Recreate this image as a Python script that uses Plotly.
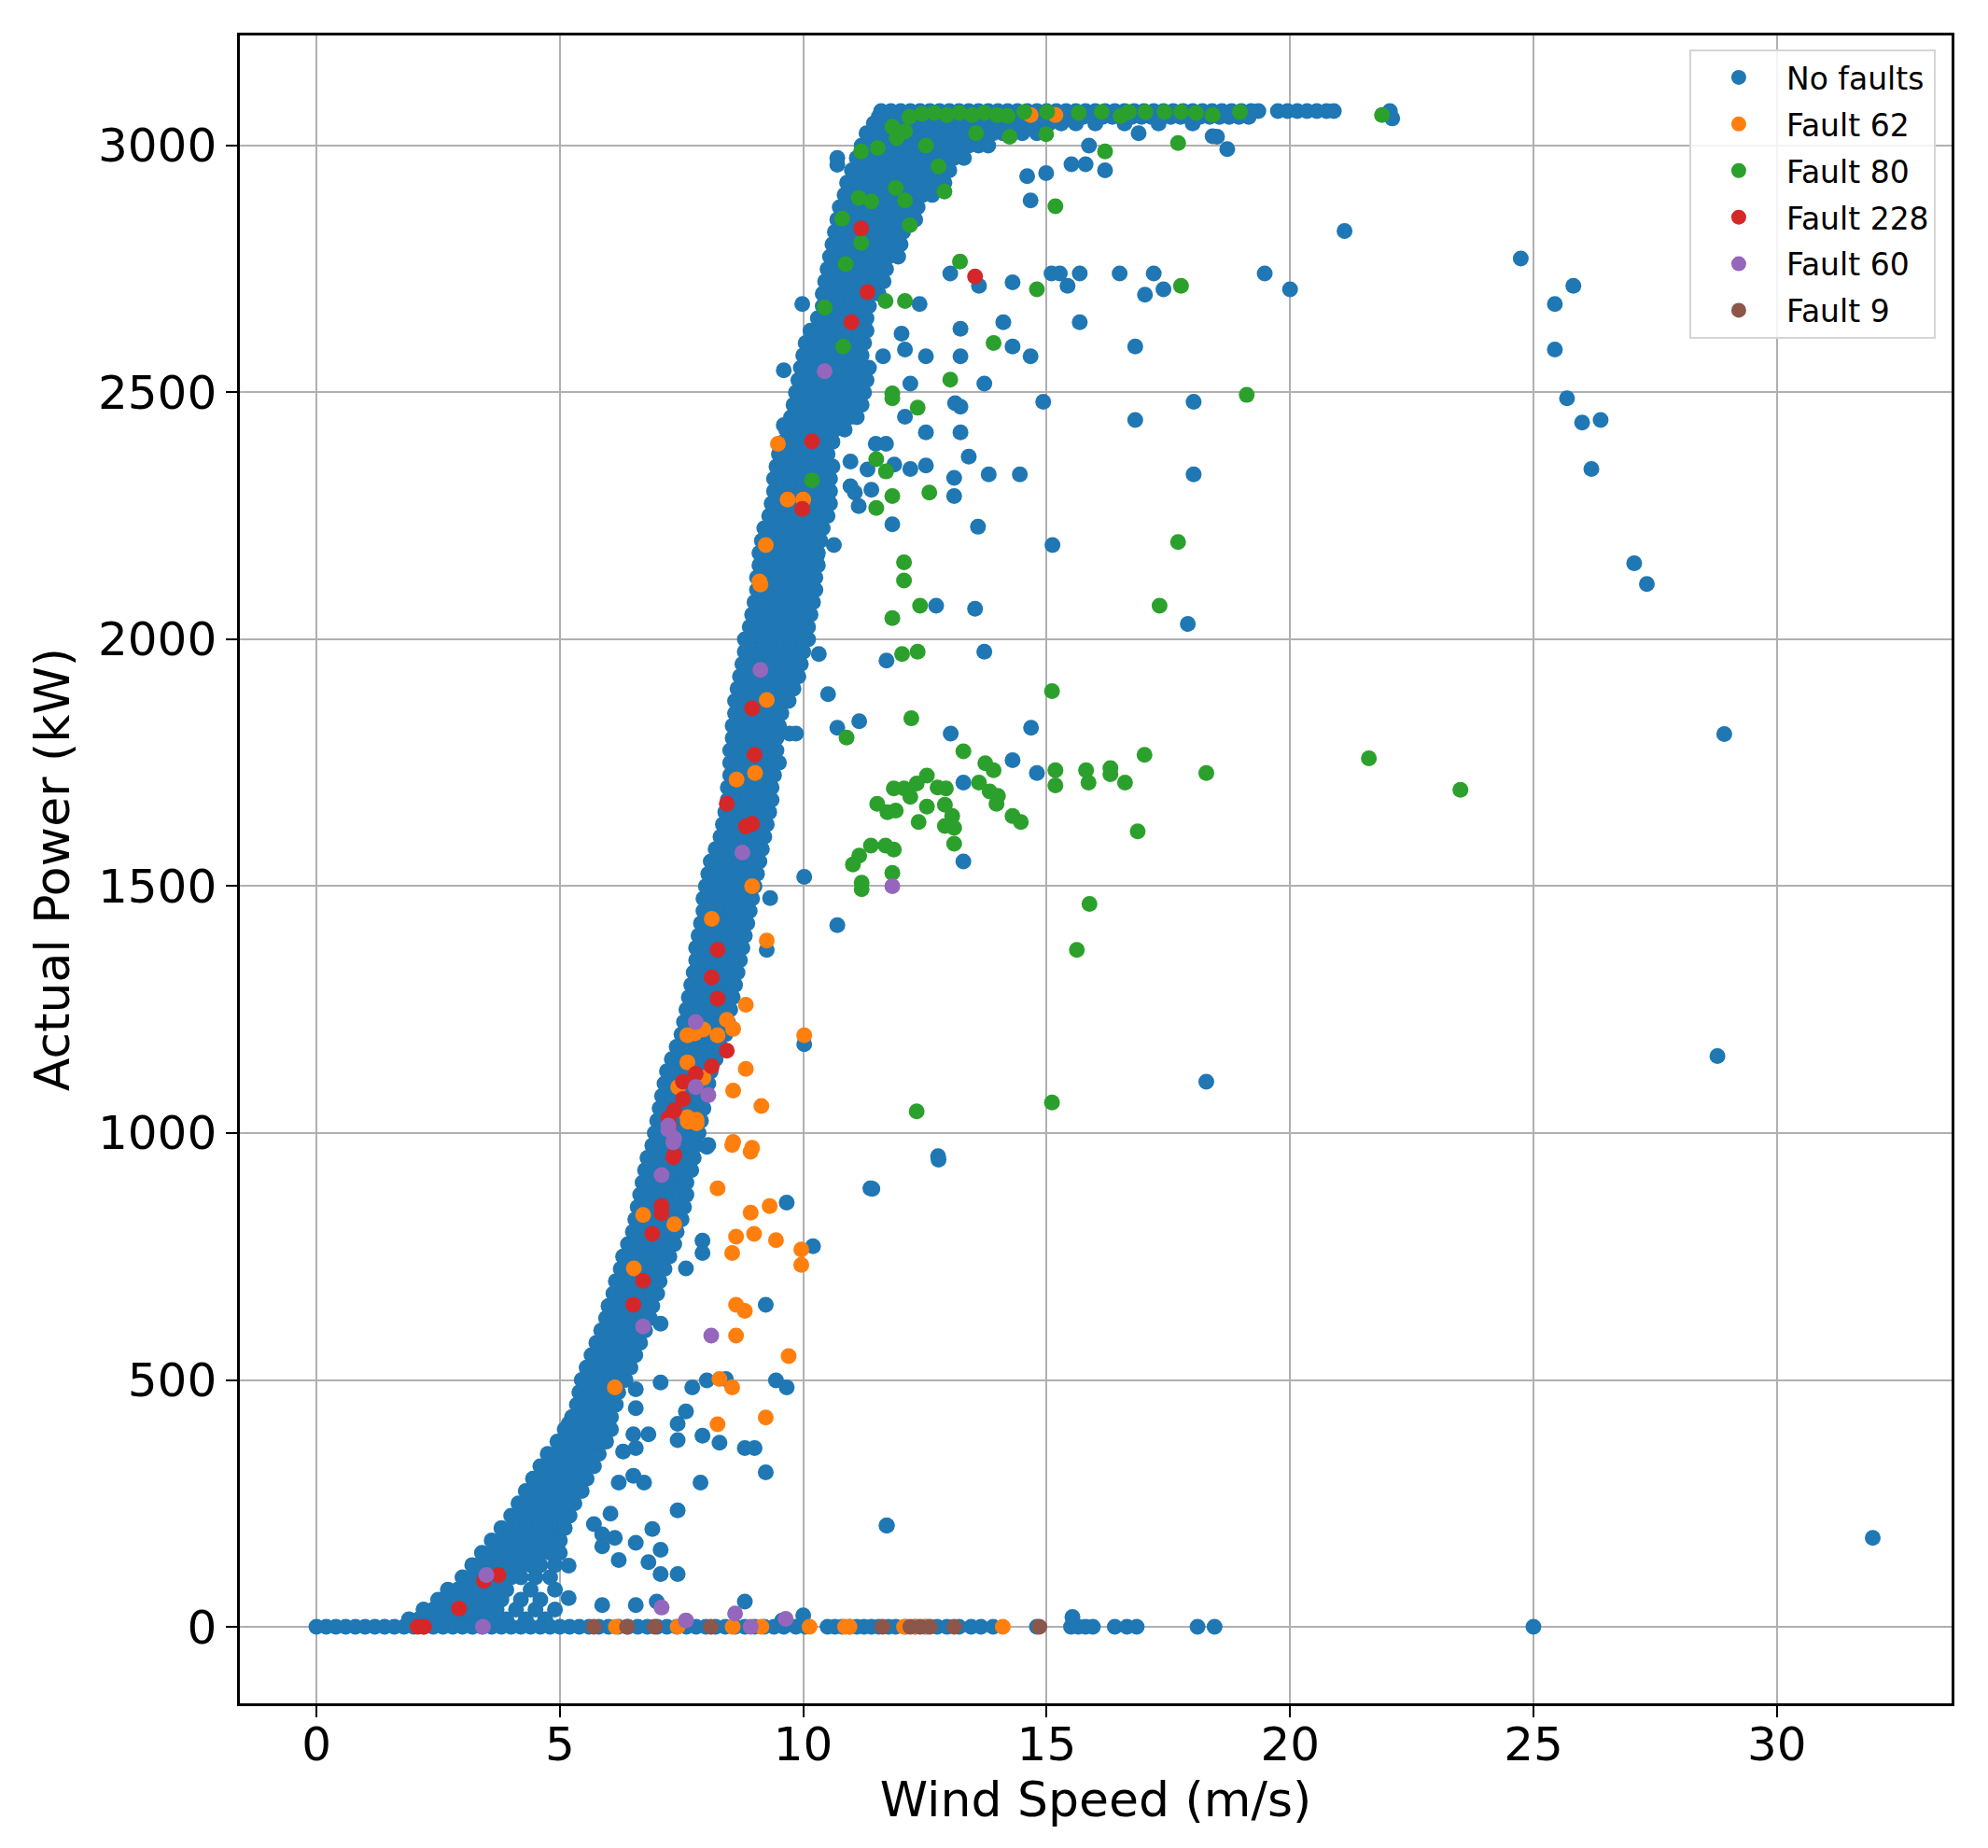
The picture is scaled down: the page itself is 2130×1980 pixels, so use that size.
import plotly.graph_objects as go

# ---- data (wind speed m/s, power kW) ----

# dense "No faults" power-curve band: one power level per row, speeds along that row
nofault_band_power = [15, 35, 55, 75, 100, 125, 150, 175, 200, 225, 250, 275, 300, 325, 350, 375,
                      400, 425, 450, 475, 500, 525, 550, 575, 600, 625, 650, 675, 700, 725, 750,
                      775, 800, 825, 850, 875, 900, 925, 950, 975, 1000, 1025, 1050, 1075, 1100,
                      1125, 1150, 1175, 1200, 1225, 1250, 1275, 1300, 1325, 1350, 1375, 1400,
                      1425, 1450, 1475, 1500, 1525, 1550, 1575, 1600, 1625, 1650, 1675, 1700,
                      1725, 1750, 1775, 1800, 1825, 1850, 1875, 1900, 1925, 1950, 1975, 2000,
                      2025, 2050, 2075, 2100, 2125, 2150, 2175, 2200, 2225, 2250, 2275, 2300,
                      2325, 2350, 2375, 2400, 2425, 2450, 2475, 2500, 2525, 2550, 2575, 2600,
                      2625, 2650, 2675, 2700, 2725, 2750, 2775, 2800, 2825, 2850, 2875, 2900,
                      2925, 2950, 2975, 3000, 3025, 3045, 3058, 3070]
nofault_band_speed = [
    [1.9, 2.1, 2.3, 2.5, 2.7, 2.9, 3.1, 3.3, 3.6, 3.9, 4.3, 4.7],
    [2.2, 2.4, 2.6, 2.8, 3.0, 3.2, 3.4, 3.7, 4.1, 4.5, 4.9],
    [2.5, 2.7, 2.9, 3.1, 3.3, 3.5, 3.8, 4.2, 4.6],
    [2.7, 2.9, 3.1, 3.3, 3.5, 3.7, 3.9, 4.4, 4.9],
    [3.0, 3.2, 3.4, 3.6, 3.8, 4.0, 4.2, 4.5, 4.8],
    [3.2, 3.4, 3.6, 3.8, 4.0, 4.2, 4.4, 4.6, 4.9],
    [3.4, 3.6, 3.8, 4.0, 4.2, 4.4, 4.6, 4.8, 5.0],
    [3.6, 3.8, 4.0, 4.2, 4.4, 4.6, 4.8, 5.0],
    [3.8, 4.0, 4.2, 4.4, 4.6, 4.8, 5.0, 5.1],
    [4.0, 4.2, 4.4, 4.6, 4.8, 5.0, 5.2],
    [4.15, 4.35, 4.55, 4.75, 4.95, 5.15, 5.3],
    [4.3, 4.5, 4.7, 4.9, 5.1, 5.3, 5.45],
    [4.45, 4.65, 4.85, 5.05, 5.25, 5.45, 5.55],
    [4.6, 4.8, 5.0, 5.2, 5.4, 5.6, 5.7],
    [4.75, 4.95, 5.15, 5.35, 5.55, 5.75, 5.8],
    [4.95, 5.15, 5.35, 5.55, 5.75, 5.95],
    [5.1, 5.3, 5.5, 5.7, 5.9, 6.05],
    [5.25, 5.45, 5.65, 5.85, 6.05],
    [5.35, 5.55, 5.75, 5.95, 6.15],
    [5.4, 5.6, 5.8, 6.0, 6.2],
    [5.45, 5.65, 5.85, 6.05, 6.25, 6.35],
    [5.55, 5.75, 5.95, 6.15, 6.35, 6.45],
    [5.65, 5.85, 6.05, 6.25, 6.45, 6.55],
    [5.75, 5.95, 6.15, 6.35, 6.55, 6.65],
    [5.85, 6.05, 6.25, 6.45, 6.65, 6.75],
    [5.95, 6.15, 6.35, 6.55, 6.75, 6.85],
    [6.0, 6.2, 6.4, 6.6, 6.8, 6.9],
    [6.1, 6.3, 6.5, 6.7, 6.9, 7.0],
    [6.15, 6.35, 6.55, 6.75, 6.95, 7.05],
    [6.25, 6.45, 6.65, 6.85, 7.05, 7.15],
    [6.3, 6.5, 6.7, 6.9, 7.1, 7.25],
    [6.4, 6.6, 6.8, 7.0, 7.2, 7.35],
    [6.5, 6.7, 6.9, 7.1, 7.3, 7.4],
    [6.55, 6.75, 6.95, 7.15, 7.35, 7.5],
    [6.6, 6.8, 7.0, 7.2, 7.4, 7.55],
    [6.65, 6.85, 7.05, 7.25, 7.45, 7.6],
    [6.7, 6.9, 7.1, 7.3, 7.5, 7.6],
    [6.75, 6.95, 7.15, 7.35, 7.55, 7.7],
    [6.8, 7.0, 7.2, 7.4, 7.6, 7.75],
    [6.9, 7.1, 7.3, 7.5, 7.7, 7.8],
    [6.95, 7.15, 7.35, 7.55, 7.75, 7.85],
    [7.0, 7.2, 7.4, 7.6, 7.8, 7.9],
    [7.05, 7.25, 7.45, 7.65, 7.85, 7.95],
    [7.1, 7.3, 7.5, 7.7, 7.9, 8.0],
    [7.15, 7.35, 7.55, 7.75, 7.95, 8.05],
    [7.2, 7.4, 7.6, 7.8, 8.0, 8.1],
    [7.3, 7.5, 7.7, 7.9, 8.1, 8.2],
    [7.4, 7.6, 7.8, 8.0, 8.2, 8.3],
    [7.5, 7.7, 7.9, 8.1, 8.3, 8.4],
    [7.55, 7.75, 7.95, 8.15, 8.35, 8.45],
    [7.6, 7.8, 8.0, 8.2, 8.4, 8.5],
    [7.65, 7.85, 8.05, 8.25, 8.45, 8.55],
    [7.7, 7.9, 8.1, 8.3, 8.5, 8.6],
    [7.75, 7.95, 8.15, 8.35, 8.55, 8.65],
    [7.8, 8.0, 8.2, 8.4, 8.6, 8.7],
    [7.8, 8.0, 8.2, 8.4, 8.6, 8.75],
    [7.85, 8.05, 8.25, 8.45, 8.65, 8.8],
    [7.9, 8.1, 8.3, 8.5, 8.7, 8.85],
    [7.95, 8.15, 8.35, 8.55, 8.75, 8.9],
    [7.95, 8.15, 8.35, 8.55, 8.75, 8.95],
    [8.0, 8.2, 8.4, 8.6, 8.8, 9.0],
    [8.05, 8.25, 8.45, 8.65, 8.85, 9.05],
    [8.1, 8.3, 8.5, 8.7, 8.9, 9.1],
    [8.2, 8.4, 8.6, 8.8, 9.0, 9.15],
    [8.3, 8.5, 8.7, 8.9, 9.1, 9.2],
    [8.35, 8.55, 8.75, 8.95, 9.15, 9.25],
    [8.4, 8.6, 8.8, 9.0, 9.2, 9.3],
    [8.45, 8.65, 8.85, 9.05, 9.25, 9.35],
    [8.45, 8.65, 8.85, 9.05, 9.25, 9.35],
    [8.5, 8.7, 8.9, 9.1, 9.3, 9.4],
    [8.5, 8.7, 8.9, 9.1, 9.3, 9.5],
    [8.5, 8.7, 8.9, 9.1, 9.3, 9.45],
    [8.55, 8.75, 8.95, 9.15, 9.35, 9.45],
    [8.55, 8.75, 8.95, 9.15, 9.35, 9.5],
    [8.6, 8.8, 9.0, 9.2, 9.4, 9.55],
    [8.6, 8.8, 9.0, 9.2, 9.4, 9.6, 9.7],
    [8.65, 8.85, 9.05, 9.25, 9.45, 9.65, 9.8],
    [8.7, 8.9, 9.1, 9.3, 9.5, 9.7, 9.9],
    [8.75, 8.95, 9.15, 9.35, 9.55, 9.75, 9.95],
    [8.8, 9.0, 9.2, 9.4, 9.6, 9.8, 10.0],
    [8.8, 9.0, 9.2, 9.4, 9.6, 9.8, 10.0, 10.1],
    [8.9, 9.1, 9.3, 9.5, 9.7, 9.9, 10.1],
    [8.95, 9.15, 9.35, 9.55, 9.75, 9.95, 10.15],
    [9.0, 9.2, 9.4, 9.6, 9.8, 10.0, 10.2],
    [9.05, 9.25, 9.45, 9.65, 9.85, 10.05, 10.25],
    [9.05, 9.25, 9.45, 9.65, 9.85, 10.05, 10.25],
    [9.1, 9.3, 9.5, 9.7, 9.9, 10.1, 10.3],
    [9.1, 9.3, 9.5, 9.7, 9.9, 10.1, 10.3],
    [9.15, 9.35, 9.55, 9.75, 9.95, 10.15, 10.35],
    [9.2, 9.4, 9.6, 9.8, 10.0, 10.2, 10.4],
    [9.3, 9.5, 9.7, 9.9, 10.1, 10.3, 10.5],
    [9.35, 9.55, 9.75, 9.95, 10.15, 10.35, 10.55],
    [9.4, 9.6, 9.8, 10.0, 10.2, 10.4, 10.55],
    [9.4, 9.6, 9.8, 10.0, 10.2, 10.4, 10.55],
    [9.45, 9.65, 9.85, 10.05, 10.25, 10.45, 10.6],
    [9.5, 9.7, 9.9, 10.1, 10.3, 10.5],
    [9.6, 9.8, 10.0, 10.2, 10.4, 10.6],
    [9.65, 9.85, 10.05, 10.25, 10.45, 10.65, 10.85],
    [9.75, 9.95, 10.15, 10.35, 10.55, 10.75, 10.95, 11.1],
    [9.8, 10.0, 10.2, 10.4, 10.6, 10.8, 11.0, 11.2],
    [9.85, 10.05, 10.25, 10.45, 10.65, 10.85, 11.05, 11.25],
    [9.9, 10.1, 10.3, 10.5, 10.7, 10.9, 11.1, 11.3],
    [9.95, 10.15, 10.35, 10.55, 10.75, 10.95, 11.15, 11.35],
    [10.0, 10.2, 10.4, 10.6, 10.8, 11.0, 11.2],
    [10.05, 10.25, 10.45, 10.65, 10.85, 11.05, 11.25],
    [10.15, 10.35, 10.55, 10.75, 10.95, 11.15, 11.3],
    [10.3, 10.5, 10.7, 10.9, 11.1, 11.3],
    [10.4, 10.6, 10.8, 11.0, 11.2, 11.35],
    [10.4, 10.6, 10.8, 11.0, 11.2, 11.4, 11.55],
    [10.45, 10.65, 10.85, 11.05, 11.25, 11.45, 11.65],
    [10.5, 10.7, 10.9, 11.1, 11.3, 11.5, 11.7],
    [10.55, 10.75, 10.95, 11.15, 11.35, 11.55, 11.75, 11.95],
    [10.6, 10.8, 11.0, 11.2, 11.4, 11.6, 11.8, 12.0],
    [10.65, 10.85, 11.05, 11.25, 11.45, 11.65, 11.85, 12.05],
    [10.7, 10.9, 11.1, 11.3, 11.5, 11.7, 11.9, 12.1, 12.3],
    [10.75, 10.95, 11.15, 11.35, 11.55, 11.75, 11.95, 12.15, 12.35],
    [10.85, 11.05, 11.25, 11.45, 11.65, 11.85, 12.05, 12.25, 12.45, 12.65],
    [10.9, 11.1, 11.3, 11.5, 11.7, 11.9, 12.1, 12.3, 12.5, 12.7, 12.9],
    [11.0, 11.2, 11.4, 11.6, 11.8, 12.0, 12.2, 12.4, 12.6, 12.8, 13.0],
    [11.1, 11.3, 11.5, 11.7, 11.9, 12.1, 12.3, 12.5, 12.7, 12.9, 13.1, 13.3],
    [11.2, 11.4, 11.6, 11.8, 12.0, 12.2, 12.4, 12.6, 12.8, 13.0, 13.2, 13.4, 13.6, 13.8],
    [11.3, 11.5, 11.7, 11.9, 12.1, 12.3, 12.5, 12.7, 12.9, 13.1, 13.3, 13.5, 13.7, 13.9,
     14.1, 14.3, 14.5, 14.8],
    [11.45, 11.65, 11.85, 12.05, 12.25, 12.45, 12.65, 12.85, 13.05, 13.25, 13.45, 13.65,
     13.85, 14.05, 14.25, 14.45, 14.65, 14.85, 15.05, 15.3, 15.6, 16.0, 16.6, 17.3, 18.0],
    [11.55, 11.75, 11.95, 12.15, 12.35, 12.55, 12.75, 12.95, 13.15, 13.35, 13.55, 13.75,
     13.95, 14.15, 14.35, 14.55, 14.75, 14.95, 15.15, 15.35, 15.55, 15.75, 15.95, 16.15,
     16.35, 16.55, 16.75, 16.95, 17.15, 17.35, 17.55, 17.75, 17.95, 18.15, 18.35, 18.55,
     18.75, 18.95, 19.15],
    [11.6, 11.8, 12.0, 12.2, 12.4, 12.6, 12.8, 13.0, 13.2, 13.4, 13.6, 13.8, 14.0, 14.2,
     14.4, 14.6, 14.8, 15.0, 15.2, 15.4, 15.6, 15.8, 16.0, 16.2, 16.4, 16.6, 16.8, 17.0,
     17.2, 17.4, 17.6, 17.8, 18.0, 18.2, 18.4, 18.6, 18.8, 19.0, 19.2, 19.35, 19.75, 19.95,
     20.15, 20.35, 20.55, 20.75, 20.9, 22.05],
]

# "No faults" points lying on zero power
nofault_zero_speed = [0.0, 0.2, 0.4, 0.6, 0.8, 1.0, 1.2, 1.4, 1.6, 1.8, 2.0, 2.2, 2.4, 2.6, 2.8,
                      3.0, 3.2, 3.4, 3.6, 3.8, 4.0, 4.2, 4.4, 4.6, 4.8, 5.0, 5.2, 5.4, 5.6, 5.8,
                      6.0, 6.2, 6.4, 6.6, 6.8, 7.0, 7.2, 7.4, 7.6, 7.8, 8.0, 8.2, 8.4, 8.6, 8.8,
                      9.0, 9.2, 9.4, 9.6, 9.85, 10.05, 10.5, 10.65, 10.8, 10.95, 11.1, 11.25,
                      11.4, 11.55, 11.75, 11.9, 12.1, 12.3, 12.5, 12.75, 12.95, 13.2, 13.45,
                      13.65, 13.9, 14.8, 15.5, 15.65, 15.8, 15.95, 16.4, 16.65, 16.85, 18.1,
                      18.45, 25.0]

# scattered "No faults" points away from the band
nofault_speed = [8.02, 7.93, 7.93, 7.59, 9.66, 10.2, 11.38, 9.23, 7.07, 9.44, 9.66, 7.72, 8.02,
                 8.41, 6.56, 7.07, 7.59, 6.56, 7.42, 7.93, 8.28, 6.82, 6.51, 7.42, 8.8, 9.0,
                 9.23, 7.89, 6.3, 6.56, 6.21, 6.51, 6.73, 7.42, 11.72, 5.18, 5.7, 6.04, 5.87,
                 6.13, 5.87, 6.9, 6.56, 7.07, 6.21, 6.82, 7.07, 7.42, 5.18, 5.18, 5.87, 6.56,
                 6.99, 8.8, 10.0, 9.57, 15.53,
                 12.73, 13.53, 17.9, 10.32, 11.71, 13.72, 10.51, 11.15, 10.7, 9.72, 9.85,
                 13.03, 14.68, 14.3, 14.8, 13.29, 13.29, 10.02, 9.32, 10.7, 18.28, 12.77,
                 8.05, 9.25, 10.02,
                 10.7, 10.7, 16.89, 18.41, 18.71, 15.87, 14.6, 14.99, 15.51, 15.8, 16.2,
                 14.67, 21.12, 13.02, 13.61, 14.3, 15.1, 15.27, 15.68, 16.5, 17.2, 19.48,
                 15.43, 17.02, 17.4, 20.0, 12.39, 9.98, 13.23, 14.11, 15.68, 12.02, 11.64,
                 12.09, 12.52, 13.23, 14.3, 14.67, 16.82, 9.6, 12.2, 13.72, 14.93, 18.02,
                 16.82, 13.12, 13.23, 12.09, 12.52, 13.23, 9.6, 11.49, 11.7, 13.4, 10.97,
                 11.32, 11.87, 12.2, 12.52, 13.81, 14.45, 13.1, 18.02, 10.97, 11.06, 11.4,
                 13.1, 11.14, 11.83, 13.59, 10.63, 15.12, 10.28, 18.5, 22.1,
                 24.74, 25.82, 25.44, 25.44, 25.69, 26.0, 26.38, 26.19, 27.07, 27.33,
                 28.92, 28.78, 31.97, 12.78, 11.42, 11.71]
nofault_power = [972, 782, 757, 726, 859, 771, 888, 652, 614, 499, 485, 485, 499,
                 502, 481, 495, 436, 443, 411, 387, 373, 390, 390, 378, 362, 362,
                 313, 292, 355, 362, 292, 306, 292, 236, 205, 411, 208, 229, 187,
                 180, 163, 198, 170, 156, 135, 131, 107, 107, 124, 58, 44, 44,
                 51, 51, 23, 13, 20,
                 2068, 2062, 2031, 1970, 1957, 1975, 1889, 1834, 1821, 1809, 1809,
                 1809, 1821, 1755, 1729, 1710, 1550, 1519, 1476, 1421, 1104, 953,
                 976, 1371, 1180,
                 2975, 2961, 3025, 3019, 2993, 3000, 2938, 2944, 2962, 2962, 2950,
                 2889, 2827, 2741, 2716, 2723, 2741, 2741, 2741, 2741, 2741, 2741,
                 2716, 2698, 2709, 2709, 2679, 2679, 2629, 2642, 2642, 2619, 2573,
                 2587, 2573, 2573, 2593, 2573, 2593, 2545, 2518, 2518, 2481, 2481,
                 2444, 2478, 2471, 2451, 2419, 2419, 2434, 2396, 2396, 2370, 2360,
                 2344, 2354, 2345, 2352, 2334, 2334, 2327, 2334, 2310, 2297, 2303,
                 2290, 2270, 2233, 2228, 2191, 2191, 2169, 3018, 3055,
                 2771, 2716, 2679, 2587, 2488, 2439, 2444, 2345, 2154, 2112,
                 1808, 1156, 180, 946, 887, 205]

# Fault 62
fault62_speed = [7.63, 7.81, 8.54, 8.92, 8.24, 8.92, 9.31, 8.62, 8.99, 9.44, 8.54, 9.96, 9.96,
                 6.71, 7.35, 6.52, 8.62, 8.8, 8.62, 9.7, 6.13, 8.28, 8.54, 8.24, 9.23,
                 9.12, 9.25, 8.63, 9.01, 8.95, 8.12, 9.25, 8.82, 8.43, 8.56, 7.62, 7.77, 7.95,
                 8.24, 10.02, 7.62, 8.82, 7.43, 7.95, 8.56, 9.14, 7.62, 7.81, 8.56, 8.95,
                 14.67, 15.18, 9.48, 9.68, 10.0, 9.23, 9.1,
                 6.15, 7.42, 8.55, 9.14, 10.13, 10.86, 10.95, 12.07, 12.3, 12.55, 14.1]
fault62_power = [1023, 1020, 976, 962, 888, 839, 852, 790, 796, 783, 757, 764, 733,
                 834, 815, 726, 652, 640, 590, 548, 485, 502, 485, 410, 424,
                 2111, 1877, 1716, 1729, 1500, 1434, 1390, 1260, 1229, 1211, 1198, 1202, 1210,
                 1198, 1198, 1143, 1130, 1093, 1112, 1086, 1055, 1032, 1027, 982, 970,
                 3062, 3062, 2396, 2283, 2283, 2191, 2117,
                 0, 0, 0, 0, 0, 0, 0, 0, 0, 0, 0]

# Fault 80
fault80_speed = [12.07, 12.07, 12.4, 11.83, 17.32, 12.03, 12.35, 15.11, 12.22, 10.89, 13.29,
                 13.74, 13.91, 15.18, 15.18, 15.81, 15.86, 16.31, 16.31, 16.61, 17.01, 18.28,
                 12.54, 12.33, 11.86, 12.07, 12.76, 12.93, 13.61, 13.83, 14.0, 13.97, 12.2,
                 12.54, 11.52, 11.73, 11.9, 12.91, 13.06, 13.1, 12.37, 12.91, 14.3, 14.47,
                 13.1, 16.87, 11.39, 11.69, 11.86, 11.15, 11.02, 11.83, 11.2, 11.2, 15.88,
                 15.62, 12.33, 15.11,
                 12.18, 12.44, 12.69, 12.95, 13.21, 13.47, 13.72, 13.98, 14.2, 14.54, 15.01,
                 15.66, 16.13, 16.52, 16.69, 17.03, 17.42, 17.76, 18.07, 18.41, 18.97,
                 11.83, 11.92, 12.09, 11.19, 11.53, 12.52, 12.78, 13.55, 14.24, 14.99, 16.2,
                 17.7, 12.9, 12.09, 11.9, 11.14, 11.4, 10.8, 12.19, 11.19, 10.87, 13.22,
                 14.8, 17.76, 11.69, 12.09, 10.44, 10.82, 13.91, 13.02, 11.83, 11.83, 12.35,
                 19.11, 11.5, 11.7, 11.83, 12.59, 11.5, 10.18, 17.7, 15.18,
                 21.89, 21.62, 23.5]
fault80_power = [2156, 2119, 2068, 2043, 2068, 1970, 1975, 1895, 1840, 1801, 1773,
                 1749, 1735, 1735, 1704, 1735, 1710, 1739, 1727, 1710, 1766, 1729,
                 1724, 1708, 1698, 1698, 1700, 1698, 1710, 1692, 1683, 1667, 1681,
                 1661, 1667, 1650, 1653, 1665, 1642, 1618, 1630, 1622, 1642, 1630,
                 1586, 1611, 1582, 1582, 1574, 1562, 1544, 1527, 1507, 1494, 1464,
                 1371, 1044, 1062,
                 3058, 3064, 3066, 3062, 3066, 3062, 3066, 3062, 3060, 3068, 3068,
                 3066, 3068, 3060, 3068, 3068, 3068, 3068, 3066, 3062, 3068,
                 3038, 3015, 3029, 2988, 2995, 3000, 2958, 3025, 3018, 3023, 2988,
                 3005, 2907, 2889, 2914, 2894, 2887, 2852, 2839, 2803, 2760, 2765,
                 2709, 2716, 2685, 2685, 2672, 2593, 2600, 2526, 2498, 2488, 2469,
                 2495, 2365, 2340, 2290, 2297, 2266, 2322, 2197, 2877,
                 3062, 1759, 1695]

# Fault 228
fault228_speed = [11.19, 13.53, 11.32, 10.99, 10.18, 9.98,
                  8.95, 9.0, 8.43, 8.82, 8.95, 8.24, 8.12, 8.24, 8.43, 8.12, 7.79, 7.53, 7.53,
                  7.35, 7.23, 7.35,
                  7.25, 7.33, 7.09, 7.09, 6.9, 6.71, 6.51, 3.74, 3.44, 2.93, 2.08, 2.21]
fault228_power = [2832, 2735, 2703, 2642, 2401, 2264,
                  1860, 1766, 1667, 1621, 1626, 1371, 1315, 1272, 1167, 1135, 1120, 1104, 1069,
                  1046, 1030, 956,
                  1016, 951, 852, 838, 796, 701, 652, 105, 93, 37, 0, 0]

# Fault 60
fault60_speed = [7.23, 7.33, 7.09, 6.71, 8.11, 3.49, 3.42, 7.09, 7.59, 8.6, 8.92, 9.64,
                 9.12, 8.75, 7.79, 7.79, 8.05, 7.23, 7.35, 11.83, 10.44]
fault60_power = [1007, 981, 915, 608, 590, 105, 0, 39, 13, 27, 0, 16,
                 1938, 1568, 1225, 1093, 1077, 1015, 989, 1500, 2543]

# Fault 9 (all at zero power)
fault9_speed = [5.7, 6.38, 6.95, 8.1, 11.63, 12.2, 12.4, 12.6, 13.1, 14.85]
fault9_power = [0, 0, 0, 0, 0, 0, 0, 0, 0, 0]

# ---- assemble the no-fault series ----
nf_x, nf_y = [], []
for p, speeds in zip(nofault_band_power, nofault_band_speed):
    for s in speeds:
        nf_x.append(s)
        nf_y.append(p)
nf_x += nofault_zero_speed + nofault_speed
nf_y += [0] * len(nofault_zero_speed) + nofault_power

series = [
    ("No faults", nf_x, nf_y, "#1f77b4"),
    ("Fault 62", fault62_speed, fault62_power, "#ff7f0e"),
    ("Fault 80", fault80_speed, fault80_power, "#2ca02c"),
    ("Fault 228", fault228_speed, fault228_power, "#d62728"),
    ("Fault 60", fault60_speed, fault60_power, "#9467bd"),
    ("Fault 9", fault9_speed, fault9_power, "#8c564b"),
]

fig = go.Figure()
for i, (name, xs, ys, col) in enumerate(series):
    fig.add_trace(go.Scatter(x=xs, y=ys, mode="markers", name=name, legendgroup=str(i),
                             marker=dict(color=col, size=17, line=dict(width=0))))

tick_font = dict(family="DejaVu Sans", size=50, color="black")
title_font = dict(family="DejaVu Sans", size=52, color="black")
fig.update_layout(
    width=2114, height=1964,
    margin=dict(l=249, r=31, t=30, b=147),
    paper_bgcolor="white", plot_bgcolor="white",
    font=dict(family="DejaVu Sans", color="black"),
    showlegend=True,
    legend=dict(x=0.9907, xanchor="right", y=0.9916, yanchor="top",
                font=dict(family="DejaVu Sans", size=33, color="black"),
                bgcolor="rgba(255,255,255,0.85)", bordercolor="#d5d5d5", borderwidth=2,
                tracegroupgap=4, itemsizing="trace", itemwidth=92),
)
fig.update_xaxes(range=[-1.573, 33.59], tickvals=[0, 5, 10, 15, 20, 25, 30],
                 title=dict(text="Wind Speed (m/s)", font=title_font, standoff=2),
                 tickfont=tick_font, showgrid=True, gridcolor="#b0b0b0", gridwidth=2,
                 zeroline=False, showline=True, linecolor="black", linewidth=2.5, mirror=True,
                 ticks="outside", ticklen=12, tickwidth=2, tickcolor="black",
                 ticklabelstandoff=-14)
fig.update_yaxes(range=[-155, 3223], tickvals=[0, 500, 1000, 1500, 2000, 2500, 3000],
                 title=dict(text="Actual Power (kW)", font=title_font, standoff=14),
                 tickfont=tick_font, showgrid=True, gridcolor="#b0b0b0", gridwidth=2,
                 zeroline=False, showline=True, linecolor="black", linewidth=2.5, mirror=True,
                 ticks="outside", ticklen=12, tickwidth=2, tickcolor="black")

fig.write_html("out.html")
